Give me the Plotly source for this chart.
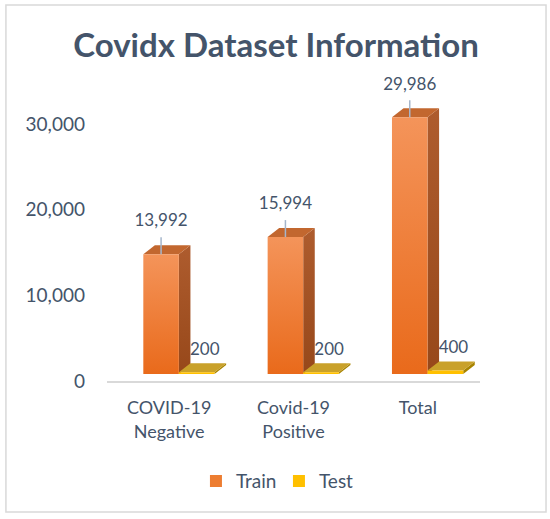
import plotly.graph_objects as go

cats = ["COVID-19<br>Negative", "Covid-19<br>Positive", "Total"]
train = [13992, 15994, 29986]
test = [200, 200, 400]
tickvals = [0, 10000, 20000, 30000]

TXT = "#44546A"
UPP = 116.8          # y units per pixel
BASE = 7 * UPP       # front faces sit a bit above the axis
DX = 0.093           # depth offset (x units)
DY = 9 * UPP         # depth offset (y units)

# front face x spans relative to category centre
TRAIN_X = (-0.208, 0.078)
TEST_X = (0.078, 0.365)

fig = go.Figure()


def box(i, v, xs, front, top, side, grad=True):
    x0, x1 = i + xs[0], i + xs[1]
    y0, y1 = BASE, BASE + v
    # side face
    fig.add_scatter(x=[x1, x1 + DX, x1 + DX, x1, x1], y=[y0, y0 + DY, y1 + DY, y1, y0],
                    fill="toself", mode="lines", line=dict(width=0),
                    fillcolor=side[0] if not grad else None,
                    fillgradient=dict(type="vertical", colorscale=[[0, side[0]], [1, side[1]]]) if grad else None,
                    showlegend=False, hoverinfo="skip")
    # top face
    fig.add_scatter(x=[x0, x1, x1 + DX, x0 + DX, x0], y=[y1, y1, y1 + DY, y1 + DY, y1],
                    fill="toself", mode="lines", line=dict(width=0), fillcolor=top,
                    showlegend=False, hoverinfo="skip")
    # front face
    fig.add_scatter(x=[x0, x1, x1, x0, x0], y=[y0, y0, y1, y1, y0],
                    fill="toself", mode="lines", line=dict(width=0),
                    fillcolor=front[0] if not grad else None,
                    fillgradient=dict(type="vertical", colorscale=[[0, front[0]], [1, front[1]]]) if grad else None,
                    showlegend=False, hoverinfo="skip")


for i in range(len(cats)):
    box(i, train[i], TRAIN_X, ("#E96A1B", "#F4945A"), "#C2672F", ("#97481A", "#AE5C2E"))
    box(i, test[i], TEST_X, ("#FFC000", "#FFC000"), "#C9A12A", ("#A88400", "#A88400"), grad=False)

# leader lines and labels for train
lx, ly = [], []
for i, v in enumerate(train):
    xc = i + (TRAIN_X[0] + TRAIN_X[1]) / 2
    lx += [xc, xc, None]
    ly += [BASE + v, BASE + v + 17 * UPP, None]
fig.add_scatter(x=lx, y=ly, mode="lines", line=dict(color="#A5B6CC", width=1.5),
                showlegend=False, hoverinfo="skip")
fig.add_scatter(x=[i + (TRAIN_X[0] + TRAIN_X[1]) / 2 for i in range(len(cats))],
                y=[BASE + v + 32 * UPP for v in train],
                text=[f"{v:,}" for v in train], mode="text",
                textfont=dict(size=17, color=TXT), showlegend=False, hoverinfo="skip")
fig.add_scatter(x=[i + (TEST_X[0] + TEST_X[1]) / 2 + 0.065 for i in range(len(cats))],
                y=[BASE + v + 22 * UPP for v in test],
                text=[f"{v:,}" for v in test], mode="text",
                textfont=dict(size=17, color=TXT), showlegend=False, hoverinfo="skip")

# legend entries
fig.add_scatter(x=[None], y=[None], mode="markers", name="Train",
                marker=dict(symbol="square", size=12, color="#ED7D31"))
fig.add_scatter(x=[None], y=[None], mode="markers", name="Test",
                marker=dict(symbol="square", size=12, color="#FFC000"))

fig.add_shape(type="rect", xref="paper", yref="paper",
              x0=-0.271, x1=1.177, y0=-0.408, y1=1.171,
              line=dict(color="#D9D9D9", width=1.5), layer="below")

fig.update_layout(
    width=550, height=519,
    margin=dict(l=107, r=70, t=60, b=138),
    paper_bgcolor="white", plot_bgcolor="white",
    font=dict(family="Lato", color=TXT, size=18),
    title=dict(text="<b>Covidx Dataset Information</b>", x=0.502, xref="container",
               y=1 - 45 / 519, yref="container", xanchor="center", yanchor="middle",
               font=dict(size=33, color=TXT, family="Lato")),
    legend=dict(orientation="h", x=0.461, xanchor="center", y=-0.312, yanchor="middle",
                font=dict(size=19, color=TXT), itemwidth=30,
                entrywidth=38, entrywidthmode="pixels"),
    showlegend=True,
)
fig.update_xaxes(range=[-0.5, 2.5], tickvals=list(range(len(cats))), ticktext=cats,
                 showgrid=False, zeroline=False, showline=True, linecolor="#D9D9D9",
                 linewidth=1.5, ticks="", ticklabelstandoff=10, fixedrange=True,
                 tickfont=dict(size=18))
fig.update_yaxes(range=[0, 321 * UPP], tickvals=tickvals, tickformat=",",
                 showgrid=False, zeroline=False, showline=False, ticks="",
                 ticklabelstandoff=21, fixedrange=True, tickfont=dict(size=19))

fig.write_html("out.html", config={"displayModeBar": False},
               post_script="document.body.style.margin='0';")
